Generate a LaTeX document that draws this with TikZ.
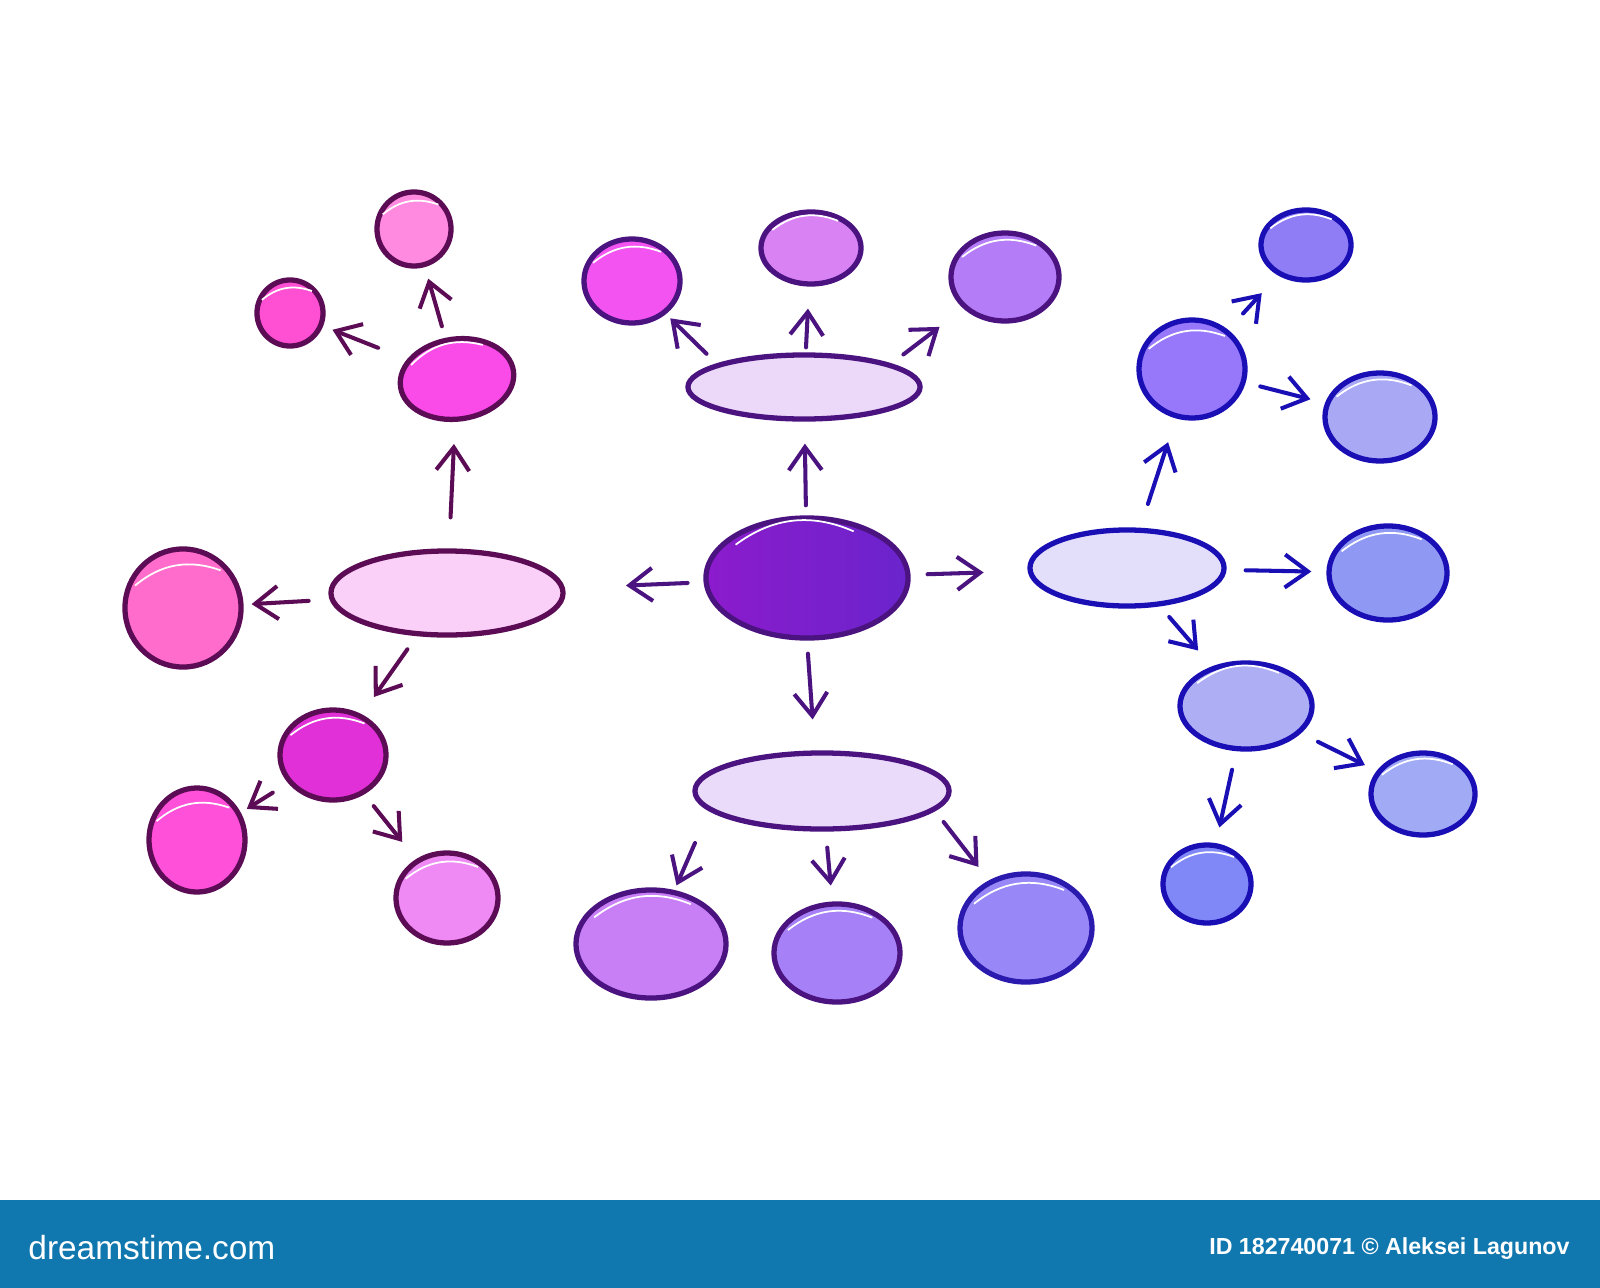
\documentclass[tikz,border=0pt]{standalone}
\usepackage{fontspec}
\newfontfamily\bannerfont{Liberation Sans}
\usetikzlibrary{shapes.geometric,arrows.meta,calc}

\definecolor{plum}{HTML}{5C0B55}
\definecolor{grape}{HTML}{4B137F}
\definecolor{ink}{HTML}{1A0FB5}
\definecolor{banner}{HTML}{1177AF}

\tikzset{
	bub/.style={ellipse, draw, line width=1.5pt, inner sep=0pt},
	sz/.style 2 args={minimum width=#1*0.2mm, minimum height=#2*0.2mm},
	hilite/.style={white, line width=0.5pt},
	arr/.style={->, line width=1.15pt, line cap=round},
}

\begin{document}
\begin{tikzpicture}[x=0.01cm, y=-0.01cm, >={Straight Barb[length=2.3mm,width=3.3mm]}]
		\useasboundingbox (0,0) rectangle (1600,1288);
		\fill[white] (0,0) rectangle (1600,1288);
		% hubs
		\node[bub, sz={101}{60}, draw=grape, left color={rgb,255:red,140;green,27;blue,204}, right color={rgb,255:red,106;green,36;blue,204}] (c) at (807,578) {};
		\node[bub, sz={116}{42}, draw=plum, fill={rgb,255:red,250;green,208;blue,248}] (lhub) at (447,593) {};
		\node[bub, sz={116}{32}, draw=grape, fill={rgb,255:red,236;green,216;blue,249}] (thub) at (804,387) {};
		\node[bub, sz={97}{38}, draw=ink, fill={rgb,255:red,227;green,222;blue,250}] (rhub) at (1127,568) {};
		\node[bub, sz={127}{38}, draw=grape, fill={rgb,255:red,233;green,219;blue,249}] (bhub) at (822,791) {};
		% left group
		\node[bub, sz={58}{59}, draw=plum, fill={rgb,255:red,255;green,108;blue,203}] (l1) at (183,608) {};
		\node[bub, sz={57}{40}, draw=plum, fill={rgb,255:red,250;green,75;blue,232}, rotate=8] (lmag) at (457,379) {};
		\node[bub, sz={33}{33}, draw=plum, fill={rgb,255:red,255;green,79;blue,210}] (lsm) at (290,313) {};
		\node[bub, sz={37}{37}, draw=plum, fill={rgb,255:red,255;green,138;blue,223}] (ltop) at (414,229) {};
		\node[bub, sz={53}{45}, draw=plum, fill={rgb,255:red,225;green,48;blue,215}] (lmid) at (333,755) {};
		\node[bub, sz={48}{52}, draw=plum, fill={rgb,255:red,255;green,80;blue,217}] (lll) at (197,840) {};
		\node[bub, sz={51}{45}, draw=plum, fill={rgb,255:red,239;green,138;blue,245}] (llr) at (447,898) {};
		% top group
		\node[bub, sz={48}{42}, draw=grape, fill={rgb,255:red,243;green,83;blue,241}] (ttl) at (632,281) {};
		\node[bub, sz={50}{36}, draw=grape, fill={rgb,255:red,216;green,130;blue,243}] (ttm) at (811,248) {};
		\node[bub, sz={54}{44}, draw=grape, fill={rgb,255:red,180;green,124;blue,246}] (ttr) at (1005,277) {};
		% right group
		\node[bub, sz={53}{49}, draw=ink, fill={rgb,255:red,151;green,120;blue,250}] (rmu) at (1192,369) {};
		\node[bub, sz={45}{35}, draw=ink, fill={rgb,255:red,142;green,125;blue,245}] (rtr) at (1306,245) {};
		\node[bub, sz={55}{44}, draw=ink, fill={rgb,255:red,169;green,168;blue,245}] (rrm) at (1380,417) {};
		\node[bub, sz={59}{47}, draw=ink, fill={rgb,255:red,143;green,153;blue,244}] (rr) at (1388,573) {};
		\node[bub, sz={66}{43}, draw=ink, fill={rgb,255:red,174;green,174;blue,245}] (rlm) at (1246,706) {};
		\node[bub, sz={52}{41}, draw=ink, fill={rgb,255:red,160;green,170;blue,245}] (rlr) at (1423,794) {};
		\node[bub, sz={44}{39}, draw=ink, fill={rgb,255:red,127;green,136;blue,246}] (rll) at (1207,884) {};
		% bottom group
		\node[bub, sz={75}{54}, draw=grape, fill={rgb,255:red,200;green,127;blue,246}] (bbl) at (651,944) {};
		\node[bub, sz={63}{49}, draw=grape, fill={rgb,255:red,166;green,128;blue,246}] (bbm) at (837,953) {};
		\node[bub, sz={66}{54}, draw={rgb,255:red,43;green,26;blue,174}, fill={rgb,255:red,152;green,136;blue,247}] (bbr) at (1026,928) {};
		% highlights
		\foreach \n in {c,l1,lmag,lsm,ltop,lmid,lll,llr,ttl,ttm,ttr,rmu,rtr,rrm,rr,rlm,rlr,rll,bbl,bbm,bbr}
			\draw[hilite] ($(\n.center)!0.87!(\n.155)$) to[bend left=30] ($(\n.center)!0.87!(\n.45)$);
		% arrows
		\draw[arr, grape, shorten <=1.6mm, shorten >=6.1mm] (c) -- (lhub);
		\draw[arr, grape, shorten <=1.0mm, shorten >=2.2mm] (c) -- (thub);
		\draw[arr, grape, shorten <=1.7mm, shorten >=4.4mm] (c) -- (rhub);
		\draw[arr, grape, shorten <=1.3mm, shorten >=3.1mm] (c.south) -- (bhub.100);
		\draw[arr, plum, shorten <=3.1mm, shorten >=2.2mm] (lhub) -- (lmag);
		\draw[arr, plum, shorten <=2.1mm, shorten >=0.8mm] (lhub) -- (l1);
		\draw[arr, plum, shorten <=1.6mm, shorten >=2.1mm] (lhub) -- (lmid);
		\draw[arr, plum, shorten <=3.1mm, shorten >=1.0mm] (lmag) -- (lsm);
		\draw[arr, plum, shorten <=1.2mm, shorten >=1.2mm] (lmag) -- (ltop);
		\draw[arr, plum, shorten <=1.8mm, shorten >=0.7mm] (lmid) -- (lll);
		\draw[arr, plum, shorten <=1.5mm, shorten >=2.2mm] (lmid) -- (llr);
		\draw[arr, grape, shorten <=1.4mm, shorten >=0.6mm] (thub.165) -- (ttl);
		\draw[arr, grape, shorten <=0.5mm, shorten >=2.2mm] (thub) -- (ttm);
		\draw[arr, grape, shorten <=1.5mm, shorten >=3.0mm] (thub.15) -- (ttr);
		\draw[arr, ink, shorten <=2.5mm, shorten >=2.5mm] (rhub) -- (rmu);
		\draw[arr, ink, shorten <=1.9mm, shorten >=1.5mm] (rhub) -- (rr);
		\draw[arr, ink, shorten <=1.4mm, shorten >=2.1mm] (rhub) -- (rlm);
		\draw[arr, ink, shorten <=2.2mm, shorten >=2.4mm] (rmu) -- (rtr);
		\draw[arr, ink, shorten <=1.5mm, shorten >=1.5mm] (rmu) -- (rrm);
		\draw[arr, ink, shorten <=1.9mm, shorten >=1.3mm] (rlm) -- (rlr);
		\draw[arr, ink, shorten <=1.9mm, shorten >=1.6mm] (rlm) -- (rll);
		\draw[arr, grape, shorten <=3.5mm, shorten >=0.5mm] (bhub.190) -- (bbl);
		\draw[arr, grape, shorten <=1.6mm, shorten >=1.6mm] (bhub) -- (bbm);
		\draw[arr, grape, shorten <=1.4mm, shorten >=1.7mm] (bhub.-10) -- (bbr);
		% banner
		\fill[banner] (0,1200) rectangle (1600,1288);
		\node[anchor=west, text=white, font=\bannerfont\fontsize{9.5}{11}\selectfont] (logo) at (16,1248) {dreamstime.com};
		\node[anchor=east, text=white, font=\bannerfont\bfseries\fontsize{6.6}{8}\selectfont] (credit) at (1582,1249) {ID 182740071 © Aleksei Lagunov};
	\end{tikzpicture}
\end{document}
